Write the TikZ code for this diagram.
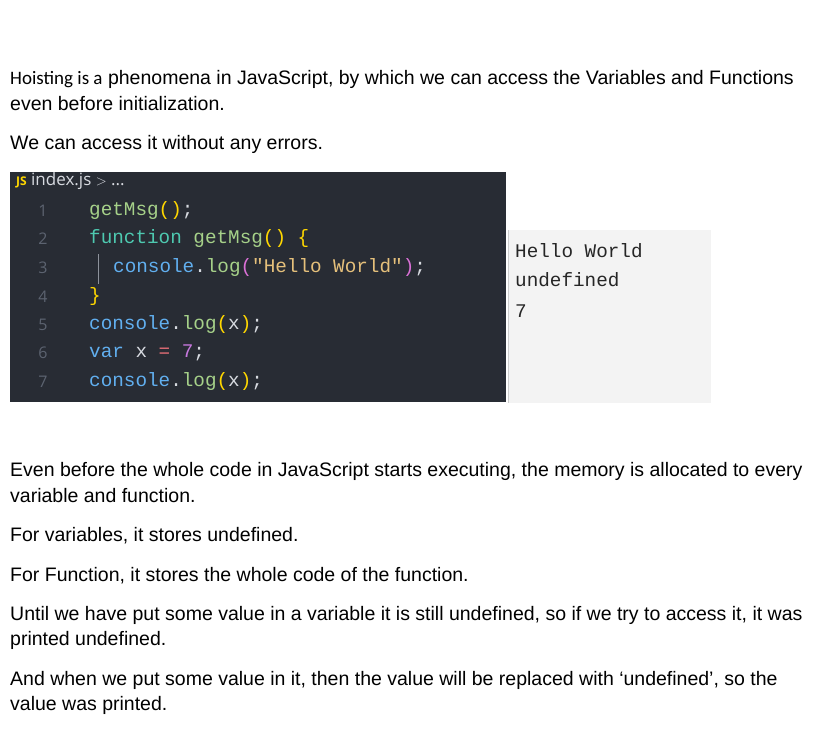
\documentclass[tikz,border=0pt]{standalone}
\usepackage{fontspec}
\setmainfont{Liberation Sans}
\newfontfamily\calib{Carlito}
\newfontfamily\cmono{Liberation Mono}
\newfontfamily\ttl{Open Sans}
\definecolor{codebg}{HTML}{282C34}
\definecolor{outbg}{HTML}{F3F3F3}
\definecolor{kw}{HTML}{4EC9B0}
\definecolor{fn}{HTML}{A6D189}
\definecolor{par}{HTML}{FFD700}
\definecolor{blu}{HTML}{61AFEF}
\definecolor{str}{HTML}{E5C07B}
\definecolor{pur}{HTML}{DA70D6}
\definecolor{red}{HTML}{E06C75}
\definecolor{num}{HTML}{C678DD}
\definecolor{lnum}{HTML}{5C6370}
\definecolor{wh}{HTML}{D7DAE0}
\begin{document}
\begin{tikzpicture}[x=1pt,y=-1pt,
  txt/.style={anchor=west,inner sep=0pt,font=\fontsize{19.5}{22}\selectfont},
  code/.style={anchor=west,inner sep=0pt,font=\cmono\fontsize{19.3}{22}\selectfont},
  lno/.style={anchor=center,inner sep=0pt,text=lnum,font=\ttl\fontsize{16}{18}\selectfont}]
\useasboundingbox[fill=white] (0,0) rectangle (837,742);
\node[txt] (t1) at (10,79) {{\calib\fontsize{19}{22}\selectfont Hoisting is a} phenomena in JavaScript, by which we can access the Variables and Functions};
\node[txt] (t2) at (10,104) {even before initialization.};
\node[txt] (t3) at (10,144) {We can access it without any errors.};
\fill[codebg] (10,172) rectangle (506,402);
\node[anchor=west,inner sep=0pt,text=wh,font=\ttl\fontsize{17}{18}\selectfont] (title) at (16,181) {{\color{par}\bfseries\fontsize{12}{14}\selectfont JS} index.js {\fontsize{14}{14}\selectfont$>$} ...};
\foreach \i/\y in {1/211,2/239,3/268,4/297,5/325,6/353,7/382} \node[lno] (n\i) at (43,\y) {\i};
\draw[lnum!70] (98,254) -- (98,284);
\node[code] (c1) at (89,211) {\color{fn}getMsg\color{par}()\color{wh};};
\node[code] (c2) at (89,239) {\color{kw}function \color{fn}getMsg\color{par}() \{};
\node[code] (c3) at (113,268) {\color{blu}console\color{wh}.\color{fn}log\color{pur}(\color{str}"Hello World"\color{pur})\color{wh};};
\node[code] (c4) at (89,297) {\color{par}\}};
\node[code] (c5) at (89,325) {\color{blu}console\color{wh}.\color{fn}log\color{par}(\color{wh}x\color{par})\color{wh};};
\node[code] (c6) at (89,353) {\color{blu}var \color{wh}x \color{red}= \color{num}7\color{wh};};
\node[code] (c7) at (89,382) {\color{blu}console\color{wh}.\color{fn}log\color{par}(\color{wh}x\color{par})\color{wh};};
\fill[outbg] (508,230) rectangle (711,403);
\draw[gray!40] (508.5,230) -- (508.5,403);
\node[code,text=black!85] (o1) at (515,251) {Hello World};
\node[code,text=black!85] (o2) at (515,280) {undefined};
\node[code,text=black!85] (o3) at (515,311) {7};
\node[txt] (b1) at (10,471) {Even before the whole code in JavaScript starts executing, the memory is allocated to every};
\node[txt] (b2) at (10,496) {variable and function.};
\node[txt] (b3) at (10,536) {For variables, it stores undefined.};
\node[txt] (b4) at (10,576) {For Function, it stores the whole code of the function.};
\node[txt] (b5) at (10,615) {Until we have put some value in a variable it is still undefined, so if we try to access it, it was};
\node[txt] (b6) at (10,640) {printed undefined.};
\node[txt] (b7) at (10,680) {And when we put some value in it, then the value will be replaced with ‘undefined’, so the};
\node[txt] (b8) at (10,705) {value was printed.};
\end{tikzpicture}
\end{document}
